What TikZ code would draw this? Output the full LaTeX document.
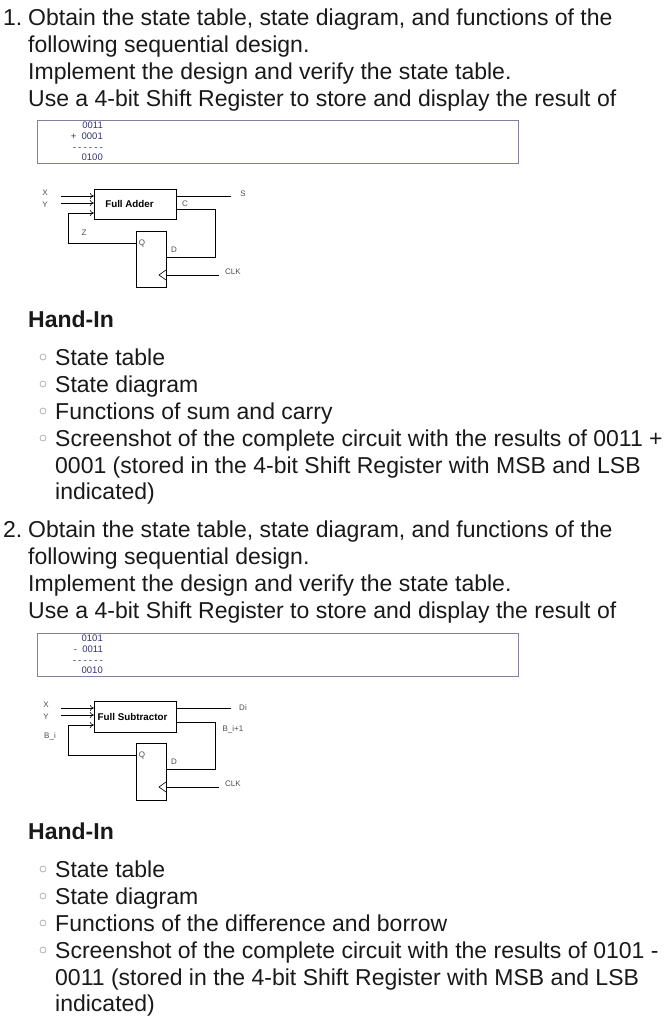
\documentclass[tikz,border=0pt]{standalone}
\usepackage{fontspec}
\usetikzlibrary{arrows.meta}
\setmainfont{Liberation Sans}
\newcommand{\dashrow}{-\kern2.2pt-\kern2.2pt-\kern2.2pt-\kern2.2pt-\kern2.2pt-}
\tikzstyle{txtline} = [anchor=base west, inner sep=0pt, font=\fontsize{23}{27}\selectfont, text=black!90]
\tikzstyle{headline} = [txtline, font=\fontsize{23}{27}\selectfont\bfseries]
\tikzstyle{bulletdot} = [draw=black!30, circle, inner sep=0pt, minimum size=6pt, thick]
\tikzstyle{sumbox} = [draw=blue!25!black!50, rectangle, inner sep=0pt, minimum width=481pt]
\tikzstyle{sumtxt} = [anchor=base east, inner sep=0pt, font=\fontsize{9.5}{10}\selectfont, text=blue!30!black!80]
\tikzstyle{blockbox} = [draw=black, rectangle, inner sep=0pt, fill=white, font=\fontsize{9.8}{10}\selectfont\bfseries]
\tikzstyle{circlabel} = [inner sep=0pt, font=\fontsize{8}{9}\selectfont, text=black!70]
\tikzstyle{wire} = [draw=black, line width=0.6pt]
\tikzstyle{inwire} = [wire, -{To[length=4pt,width=6pt]}]
\begin{document}
\begin{tikzpicture}[x=1pt,y=-1pt]
    \useasboundingbox (0,0) rectangle (671,1024);

    % question 1
    \node [txtline] (n1) at (3,25.5) {1.};
    \node [txtline] (t11) at (28,25.5) {Obtain the state table, state diagram, and functions of the};
    \node [txtline] (t12) at (28,52.5) {following sequential design.};
    \node [txtline] (t13) at (28,79.5) {Implement the design and verify the state table.};
    \node [txtline] (t14) at (28,106.5) {Use a 4-bit Shift Register to store and display the result of};

    \node [sumbox, minimum height=43pt] (sum1) at (277.5,141.5) {};
    \node [sumtxt] (a11) at (103,129) {0011};
    \node [sumtxt] (a12) at (103,140) {+\ \ 0001};
    \node [sumtxt] (a13) at (103,150.5) {\dashrow};
    \node [sumtxt] (a14) at (103,161) {0100};

    % adder circuit
    \node [blockbox, minimum width=82pt, minimum height=30pt] (fa) at (135,204) {Full Adder\kern11pt};
    \node [blockbox, minimum width=30pt, minimum height=56pt] (ff1) at (151,259) {};
    \coordinate (x1) at (61,196);
    \coordinate (y1) at (61,203);
    \coordinate (z1) at (68,213);
    \coordinate (s1) at (231,196);
    \coordinate (c1) at (176,209);
    \coordinate (c2) at (215,209);
    \coordinate (d1) at (166,257);
    \coordinate (q1) at (136,243);
    \coordinate (clk1) at (219,275);
    \coordinate (ck1a) at (166,270);
    \coordinate (ck1b) at (159,275);
    \coordinate (ck1c) at (166,280);
    \draw [inwire] (x1) -- (x1 -| fa.west);
    \draw [inwire] (y1) -- (y1 -| fa.west);
    \draw [inwire] (q1) -- (q1 -| z1) -- (z1) -- (z1 -| fa.west);
    \draw [wire] (s1 -| fa.east) -- (s1);
    \draw [wire] (c1) -- (c2) -- (c2 |- d1) -- (d1);
    \draw [wire] (clk1) -- (clk1 -| ff1.east);
    \draw [wire] (ck1a) -- (ck1b) -- (ck1c);
    \node [circlabel] (lx1) at (45,193) {X};
    \node [circlabel] (ly1) at (45,205) {Y};
    \node [circlabel] (lz1) at (84,233) {Z};
    \node [circlabel] (ls1) at (243,194) {S};
    \node [circlabel] (lc1) at (185,204) {C};
    \node [circlabel] (lq1) at (142,243) {Q};
    \node [circlabel] (ld1) at (174,250) {D};
    \node [circlabel] (lk1) at (233,272) {CLK};

    \node [headline] (h1) at (28,327) {Hand-In};
    \node [bulletdot] (b11) at (43,357) {};
    \node [txtline] (i11) at (55,365) {State table};
    \node [bulletdot] (b12) at (43,384) {};
    \node [txtline] (i12) at (55,392) {State diagram};
    \node [bulletdot] (b13) at (43,411) {};
    \node [txtline] (i13) at (55,419) {Functions of sum and carry};
    \node [bulletdot] (b14) at (43,438) {};
    \node [txtline] (i14) at (55,446) {Screenshot of the complete circuit with the results of 0011 +};
    \node [txtline] (i15) at (55,473) {0001 (stored in the 4-bit Shift Register with MSB and LSB};
    \node [txtline] (i16) at (55,499) {indicated)};

    % question 2
    \node [txtline] (n2) at (3,537) {2.};
    \node [txtline] (t21) at (28,537) {Obtain the state table, state diagram, and functions of the};
    \node [txtline] (t22) at (28,564) {following sequential design.};
    \node [txtline] (t23) at (28,591) {Implement the design and verify the state table.};
    \node [txtline] (t24) at (28,618) {Use a 4-bit Shift Register to store and display the result of};

    \node [sumbox, minimum height=43pt] (sum2) at (277.5,654.5) {};
    \node [sumtxt] (a21) at (103,641) {0101};
    \node [sumtxt] (a22) at (103,652) {-\ \ 0011};
    \node [sumtxt] (a23) at (103,663) {\dashrow};
    \node [sumtxt] (a24) at (103,673) {0010};

    % subtractor circuit
    \node [blockbox, minimum width=82pt, minimum height=31pt] (fs) at (135,716.5) {Full Subtractor\kern5pt};
    \node [blockbox, minimum width=30pt, minimum height=57pt] (ff2) at (151,771.5) {};
    \coordinate (x2) at (61,708);
    \coordinate (y2) at (61,715);
    \coordinate (z2) at (68,725);
    \coordinate (s2) at (231,708);
    \coordinate (c3) at (176,722);
    \coordinate (c4) at (215,722);
    \coordinate (d2) at (166,769);
    \coordinate (q2) at (136,755);
    \coordinate (clk2) at (219,787);
    \coordinate (ck2a) at (166,782);
    \coordinate (ck2b) at (159,787);
    \coordinate (ck2c) at (166,792);
    \draw [inwire] (x2) -- (x2 -| fs.west);
    \draw [inwire] (y2) -- (y2 -| fs.west);
    \draw [inwire] (q2) -- (q2 -| z2) -- (z2) -- (z2 -| fs.west);
    \draw [wire] (s2 -| fs.east) -- (s2);
    \draw [wire] (c3) -- (c4) -- (c4 |- d2) -- (d2);
    \draw [wire] (clk2) -- (clk2 -| ff2.east);
    \draw [wire] (ck2a) -- (ck2b) -- (ck2c);
    \node [circlabel] (lx2) at (46,705) {X};
    \node [circlabel] (ly2) at (46,717) {Y};
    \node [circlabel] (lz2) at (50,736) {B\_i};
    \node [circlabel] (ls2) at (243,708) {Di};
    \node [circlabel] (lc2) at (233,729) {B\_i+1};
    \node [circlabel] (lq2) at (142,755) {Q};
    \node [circlabel] (ld2) at (174,762) {D};
    \node [circlabel] (lk2) at (233,784) {CLK};

    \node [headline] (h2) at (28,839) {Hand-In};
    \node [bulletdot] (b21) at (43,869) {};
    \node [txtline] (i21) at (55,877) {State table};
    \node [bulletdot] (b22) at (43,896) {};
    \node [txtline] (i22) at (55,904) {State diagram};
    \node [bulletdot] (b23) at (43,923) {};
    \node [txtline] (i23) at (55,931) {Functions of the difference and borrow};
    \node [bulletdot] (b24) at (43,950) {};
    \node [txtline] (i24) at (55,958) {Screenshot of the complete circuit with the results of 0101 -};
    \node [txtline] (i25) at (55,985) {0011 (stored in the 4-bit Shift Register with MSB and LSB};
    \node [txtline] (i26) at (55,1011) {indicated)};
\end{tikzpicture}
\end{document}
